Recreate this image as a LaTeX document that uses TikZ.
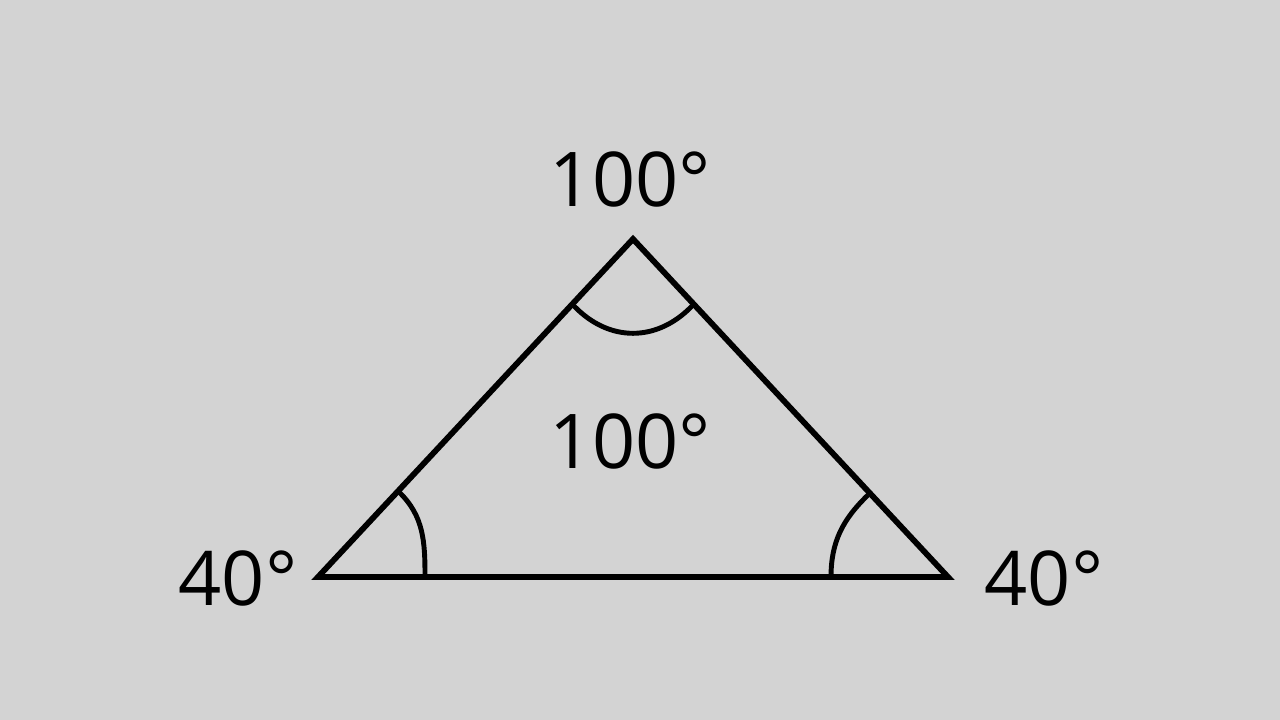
\documentclass[tikz,border=0pt]{standalone}
\usepackage{fontspec}
\setmainfont{Open Sans}
\usepackage{tikz}

\definecolor{bggray}{RGB}{211,211,211}

\tikzset{
  side/.style={line width=3.3pt, line join=miter},
  anglemark/.style={line width=2.8pt},
  deglabel/.style={font=\fontsize{43}{50}\selectfont, inner sep=0pt}
}

\begin{document}
\begin{tikzpicture}[x=0.2mm, y=-0.2mm]
 \fill [bggray] (0,0) rectangle (1280,720);
 \useasboundingbox (0,0) rectangle (1280,720);

 \coordinate (T) at (633,239); % 頂点
 \coordinate (L) at (318,577); % 左下
 \coordinate (R) at (948,577); % 右下

 % 角の印の端点
 \coordinate (La) at (399,492);
 \coordinate (Lb) at (425,577);
 \coordinate (Ra) at (868,495);
 \coordinate (Rb) at (831,577);
 \coordinate (Ta) at (574,306);
 \coordinate (Tb) at (692,306);

 \draw [side] (T) -- (L) -- (R) -- cycle;

 \draw [anglemark] (La) to[out=-44, in=90] (Lb);
 \draw [anglemark] (Ra) to[out=-136, in=90] (Rb);
 \draw [anglemark] (Ta) to[out=-46, in=-134, looseness=1.1] (Tb);

 \node (toplabel) at (630,179) [deglabel] {100°};
 \node (midlabel) at (630,441) [deglabel] {100°};
 \node (leftlabel) at (238,578) [deglabel] {40°};
 \node (rightlabel) at (1044,578) [deglabel] {40°};
\end{tikzpicture}
\end{document}
